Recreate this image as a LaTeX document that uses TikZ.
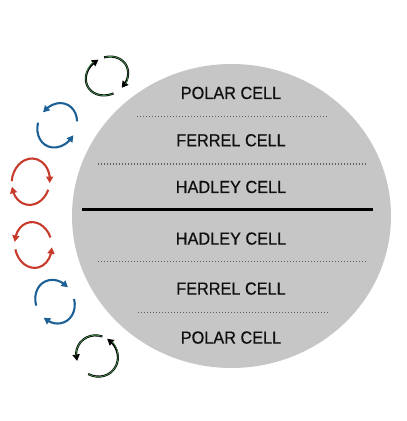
\documentclass[tikz,border=0pt]{standalone}
\usepackage{fontspec}
\newfontfamily\cellfont[FakeStretch=0.93,FakeBold=0.5]{Liberation Sans}
\usetikzlibrary{arrows.meta,bending}
\definecolor{disc}{RGB}{198,198,198}
\definecolor{dotc}{RGB}{95,95,95}
\definecolor{cblue}{RGB}{28,96,150}
\definecolor{cred}{RGB}{200,58,44}
\definecolor{cgreen}{RGB}{70,150,80}
\definecolor{ink}{RGB}{15,15,15}
% cx, cy, rotation, a, b, start, end, style
\newcommand\cycarc[8]{%
  \begin{scope}[shift={(#1,#2)},rotate=#3]
    \draw[#8] ({#6-#3}:#4 and #5) arc[start angle={#6-#3}, end angle={#7-#3}, x radius=#4, y radius=#5];
  \end{scope}}
\tikzset{
  cycarrow/.style={line width=2.1pt, -{Triangle[length=6.5pt,width=7pt]}},
  cyccore/.style={line width=0.7pt, cgreen, shorten >=5.5pt, shorten <=0.6pt},
  celltext/.style={font=\cellfont\fontsize{17.5}{20}\selectfont, text=ink, inner sep=0pt, anchor=base},
  dotline/.style={dotc, line width=1.2pt, dash pattern=on 1.2pt off 1.8pt},
  divider/.style={black, line width=3pt}
}
\begin{document}
\begin{tikzpicture}[x=1pt,y=1pt]
\path[use as bounding box] (0,0) rectangle (407,421);
\fill[disc] (231.5,205) ellipse[x radius=159.5, y radius=152];
% dividers
\draw[dotline] (137,304.3) -- (327,304.3);
\draw[dotline] (98,257) -- (366,257);
\draw[divider] (82,211.5) -- (373,211.5);
\draw[dotline] (98,159.3) -- (366,159.3);
\draw[dotline] (138,108.3) -- (328,108.3);
% labels
\node[celltext] (polarN)  at (231,322)   {POLAR CELL};
\node[celltext] (ferrelN) at (231,274.7) {FERREL CELL};
\node[celltext] (hadleyN) at (231,228)   {HADLEY CELL};
\node[celltext] (hadleyS) at (231,176.4) {HADLEY CELL};
\node[celltext] (ferrelS) at (231,126.4) {FERREL CELL};
\node[celltext] (polarS)  at (231,77.4)  {POLAR CELL};
% top black/green
\cycarc{107}{345}{30}{22}{18.5}{102}{-42}{cycarrow,black}
\cycarc{107}{345}{30}{22}{18.5}{-68}{-242}{cycarrow,black}
\cycarc{107}{345}{30}{22}{18.5}{102}{-42}{cyccore}
\cycarc{107}{345}{30}{22}{18.5}{-68}{-242}{cyccore}
% top blue
\cycarc{57.2}{295.7}{63}{23}{19}{6}{140}{cycarrow,cblue}
\cycarc{57.2}{295.7}{63}{23}{19}{169}{329}{cycarrow,cblue}
% top red
\cycarc{30.8}{239.3}{81}{23.3}{19}{177}{-5}{cycarrow,cred}
\cycarc{30.8}{239.3}{81}{23.3}{19}{-22}{-169}{cycarrow,cred}
% bottom red
\cycarc{33.3}{176}{-81}{23}{18.5}{21}{174}{cycarrow,cred}
\cycarc{33.3}{176}{-81}{23}{18.5}{193}{356}{cycarrow,cred}
% bottom blue
\cycarc{55}{119.3}{-63}{22.5}{19}{194}{45}{cycarrow,cblue}
\cycarc{55}{119.3}{-63}{22.5}{19}{11}{-129}{cycarrow,cblue}
% bottom black/green
\cycarc{97}{65}{-40}{21.5}{20}{73}{196}{cycarrow,black}
\cycarc{97}{65}{-40}{21.5}{20}{243}{419}{cycarrow,black}
\cycarc{97}{65}{-40}{21.5}{20}{73}{196}{cyccore}
\cycarc{97}{65}{-40}{21.5}{20}{243}{419}{cyccore}
\end{tikzpicture}
\end{document}
